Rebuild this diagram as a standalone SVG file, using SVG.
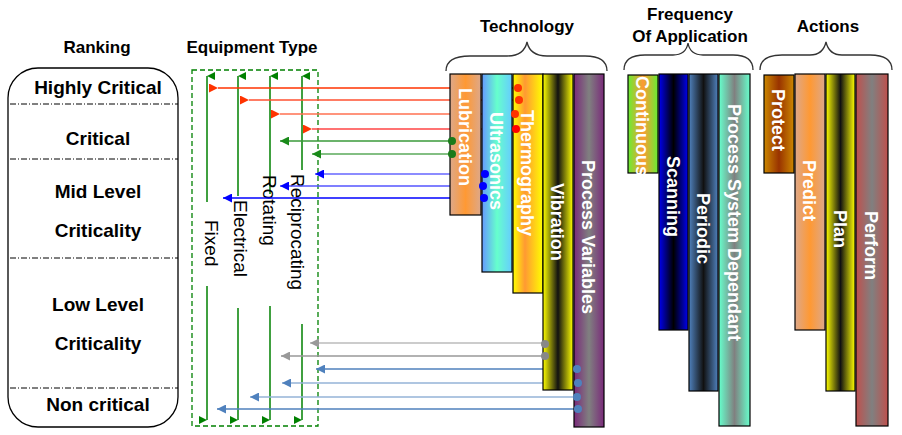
<svg xmlns="http://www.w3.org/2000/svg" width="902" height="435" viewBox="0 0 902 435">
<style>
.h{font-family:"Liberation Sans",Arial,sans-serif;font-weight:bold;font-size:17px;fill:#000;text-anchor:middle}
.r{font-family:"Liberation Sans",Arial,sans-serif;font-weight:bold;font-size:19px;fill:#000;text-anchor:middle}
.e{font-family:"Liberation Sans",Arial,sans-serif;font-size:19px;fill:#000}
.b{font-family:"Liberation Sans",Arial,sans-serif;font-weight:bold;font-size:18px;fill:#fff}
.bar{stroke:#000;stroke-width:1.2}
.div{stroke:#000;stroke-width:1;stroke-dasharray:6 2 1 2}
.v{stroke:#008000;stroke-width:1.5;fill:none}
.brace{fill:none;stroke:#333;stroke-width:1.3}
</style>
<defs>
<marker id="gu" viewBox="0 0 10 10" refX="5" refY="0" markerWidth="8" markerHeight="9" markerUnits="userSpaceOnUse" orient="auto"><path d="M0,10 L5,0 L10,10Z" fill="#008000"/></marker>
<marker id="ahR" viewBox="0 0 10 10" refX="0" refY="5" markerWidth="10" markerHeight="9" markerUnits="userSpaceOnUse" orient="auto-start-reverse"><path d="M0,5 L10,0 L10,10Z" fill="#ff3300"/></marker>
<marker id="ahG" viewBox="0 0 10 10" refX="0" refY="5" markerWidth="10" markerHeight="9" markerUnits="userSpaceOnUse"><path d="M0,5 L10,0 L10,10Z" fill="#1a8a1a"/></marker>
<marker id="ahB" viewBox="0 0 10 10" refX="0" refY="5" markerWidth="10" markerHeight="9" markerUnits="userSpaceOnUse"><path d="M0,5 L10,0 L10,10Z" fill="#0000ff"/></marker>
<marker id="ahY" viewBox="0 0 10 10" refX="0" refY="5" markerWidth="10" markerHeight="9" markerUnits="userSpaceOnUse"><path d="M0,5 L10,0 L10,10Z" fill="#999"/></marker>
<marker id="ahS" viewBox="0 0 10 10" refX="0" refY="5" markerWidth="10" markerHeight="9" markerUnits="userSpaceOnUse"><path d="M0,5 L10,0 L10,10Z" fill="#4f81bd"/></marker>
<linearGradient id="gLub"><stop offset="0" stop-color="#dda88a"/><stop offset=".5" stop-color="#ff9933"/><stop offset="1" stop-color="#dda88a"/></linearGradient>
<linearGradient id="gUlt"><stop offset="0" stop-color="#6699ff"/><stop offset=".5" stop-color="#66ffcc"/><stop offset="1" stop-color="#66ccff"/></linearGradient>
<linearGradient id="gThe"><stop offset="0" stop-color="#ffff00"/><stop offset=".4" stop-color="#ff9933"/><stop offset="1" stop-color="#ffff00"/></linearGradient>
<linearGradient id="gVib"><stop offset="0" stop-color="#ffff00"/><stop offset=".5" stop-color="#111"/><stop offset="1" stop-color="#ffff00"/></linearGradient>
<linearGradient id="gPro"><stop offset="0" stop-color="#7a2a7a"/><stop offset=".5" stop-color="#808080"/><stop offset="1" stop-color="#7a2a7a"/></linearGradient>
<linearGradient id="gCon"><stop offset="0" stop-color="#66ee33"/><stop offset=".5" stop-color="#ff9933"/><stop offset="1" stop-color="#66ee33"/></linearGradient>
<linearGradient id="gSca"><stop offset="0" stop-color="#0000ee"/><stop offset=".5" stop-color="#000"/><stop offset="1" stop-color="#0000ee"/></linearGradient>
<linearGradient id="gPer"><stop offset="0" stop-color="#4f81bd"/><stop offset=".5" stop-color="#111"/><stop offset="1" stop-color="#4f81bd"/></linearGradient>
<linearGradient id="gPsd"><stop offset="0" stop-color="#66ffcc"/><stop offset=".5" stop-color="#808080"/><stop offset="1" stop-color="#66ffcc"/></linearGradient>
<linearGradient id="gPrt"><stop offset="0" stop-color="#cc8800"/><stop offset=".5" stop-color="#993300"/><stop offset="1" stop-color="#cc8800"/></linearGradient>
<linearGradient id="gPrd"><stop offset="0" stop-color="#dda88a"/><stop offset=".5" stop-color="#ff9933"/><stop offset="1" stop-color="#dda88a"/></linearGradient>
<linearGradient id="gPla"><stop offset="0" stop-color="#ffff00"/><stop offset=".5" stop-color="#111"/><stop offset="1" stop-color="#ffff00"/></linearGradient>
<linearGradient id="gPfm"><stop offset="0" stop-color="#c0504d"/><stop offset=".5" stop-color="#808080"/><stop offset="1" stop-color="#c0504d"/></linearGradient>
</defs>
<rect width="902" height="435" fill="#fff"/>

<g id="headers">
<text class="h" x="97" y="53">Ranking</text>
<text class="h" x="252" y="53">Equipment Type</text>
<text class="h" x="527" y="32">Technology</text>
<text class="h" x="690" y="20">Frequency</text>
<text class="h" x="690" y="42">Of Application</text>
<text class="h" x="828" y="32">Actions</text>
</g>

<g id="braces">
<path class="brace" d="M446,71 Q446,56 470,56 L507,56 Q524,56 527,42 Q530,56 547,56 L585,56 Q607,56 607,71"/>
<path class="brace" d="M624,70 Q624,55 645,55 L673,55 Q686,55 688,43 Q690,55 703,55 L733,55 Q753,55 753,70"/>
<path class="brace" d="M760,70 Q760,55 782,55 L810,55 Q823,55 826,42 Q829,55 842,55 L870,55 Q892,55 892,70"/>
</g>

<g id="ranking">
<rect x="8" y="68" width="170" height="359" rx="30" fill="none" stroke="#000" stroke-width="1.3"/>
<line class="div" x1="10" y1="104" x2="178" y2="104"/>
<line class="div" x1="10" y1="159" x2="178" y2="159"/>
<line class="div" x1="10" y1="258" x2="178" y2="258"/>
<line class="div" x1="10" y1="388" x2="178" y2="388"/>
<text class="r" x="98" y="94">Highly  Critical</text>
<text class="r" x="98" y="145">Critical</text>
<text class="r" x="98" y="198">Mid Level</text>
<text class="r" x="98" y="237">Criticality</text>
<text class="r" x="98" y="311">Low Level</text>
<text class="r" x="98" y="350">Criticality</text>
<text class="r" x="98" y="411">Non critical</text>
</g>

<g id="equipment">
<rect x="192" y="70" width="126" height="356" fill="none" stroke="#008000" stroke-width="1.3" stroke-dasharray="5 3"/>
<path class="v" d="M207,202 V76" marker-end="url(#gu)"/>
<path class="v" d="M207,286 V420" marker-end="url(#gu)"/>
<path class="v" d="M238,196 V76" marker-end="url(#gu)"/>
<path class="v" d="M238,308 V420" marker-end="url(#gu)"/>
<path class="v" d="M270,194 V76" marker-end="url(#gu)"/>
<path class="v" d="M270,306 V420" marker-end="url(#gu)"/>
<path class="v" d="M302,170 V76" marker-end="url(#gu)"/>
<path class="v" d="M302,324 V420" marker-end="url(#gu)"/>
<text class="e" transform="translate(205,220) rotate(90)">Fixed</text>
<text class="e" transform="translate(234,200) rotate(90)">Electrical</text>
<text class="e" transform="translate(263,175) rotate(90)">Rotating</text>
<text class="e" transform="translate(291,174) rotate(90)">Reciprocating</text>
</g>

<g id="connectors" stroke-width="1.6" fill="none">
<path d="M518,88 H218" stroke="#ff3300" marker-end="url(#ahR)"/>
<path d="M519,100 H249" stroke="#ff5030" marker-end="url(#ahR)"/>
<path d="M515,114 H280" stroke="#ff7050" marker-end="url(#ahR)"/>
<path d="M516,129 H312" stroke="#ff4444" marker-end="url(#ahR)"/>
<path d="M452,141 H280" stroke="#3a9a3a" marker-end="url(#ahG)"/>
<path d="M452,154 H312" stroke="#5aaa5a" marker-end="url(#ahG)"/>
<path d="M484,174 H315" stroke="#6666ff" marker-end="url(#ahB)"/>
<path d="M483,186 H280" stroke="#5555ff" marker-end="url(#ahB)"/>
<path d="M484,198 H223" stroke="#0000ff" marker-end="url(#ahB)"/>
<path d="M545,343 H310" stroke="#bbb" marker-end="url(#ahY)"/>
<path d="M545,356 H281" stroke="#999" marker-end="url(#ahY)"/>
<path d="M577,369 H316" stroke="#4f81bd" marker-end="url(#ahS)"/>
<path d="M578,383 H282" stroke="#95b3d7" marker-end="url(#ahS)"/>
<path d="M577,397 H250" stroke="#95b3d7" marker-end="url(#ahS)"/>
<path d="M578,409 H217" stroke="#4f81bd" marker-end="url(#ahS)"/>
</g>

<g id="technology">
<rect class="bar" x="450" y="74" width="31" height="141" fill="url(#gLub)"/>
<rect class="bar" x="482" y="74" width="30" height="198" fill="url(#gUlt)"/>
<rect class="bar" x="513" y="74" width="30" height="219" fill="url(#gThe)"/>
<rect class="bar" x="543" y="74" width="30" height="316" fill="url(#gVib)"/>
<rect class="bar" x="574" y="74" width="30" height="353" fill="url(#gPro)"/>
<text class="b" transform="translate(459,88) rotate(90)">Lubrication</text>
<text class="b" transform="translate(490,112) rotate(90)">Ultrasonics</text>
<text class="b" transform="translate(521,110) rotate(90)">Thermography</text>
<text class="b" transform="translate(551,183) rotate(90)">Vibration</text>
<text class="b" transform="translate(582,160) rotate(90)">Process Variables</text>
</g>

<g id="dots">
<circle cx="518" cy="88" r="4" fill="#ff3300"/>
<circle cx="519" cy="100" r="4" fill="#ff3300"/>
<circle cx="515" cy="114" r="4" fill="#ff3300"/>
<circle cx="516" cy="129" r="4" fill="#ff0000"/>
<circle cx="452" cy="141" r="4" fill="#1a7a1a"/>
<circle cx="452" cy="154" r="4" fill="#1a7a1a"/>
<circle cx="485" cy="174" r="4" fill="#0000ff"/>
<circle cx="483" cy="186" r="4" fill="#0000ff"/>
<circle cx="484" cy="198" r="4" fill="#0000ff"/>
<circle cx="545" cy="344" r="4" fill="#888"/>
<circle cx="545" cy="356" r="4" fill="#888"/>
<circle cx="577" cy="369" r="4" fill="#4f81bd"/>
<circle cx="578" cy="383" r="4" fill="#4f81bd"/>
<circle cx="577" cy="397" r="4" fill="#4f81bd"/>
<circle cx="578" cy="409" r="4" fill="#4f81bd"/>
</g>

<g id="frequency">
<rect class="bar" x="628" y="75" width="30" height="98" fill="url(#gCon)"/>
<rect class="bar" x="659" y="74" width="29" height="256" fill="url(#gSca)"/>
<rect class="bar" x="689" y="74" width="29" height="317" fill="url(#gPer)"/>
<rect class="bar" x="719" y="74" width="31" height="352" fill="url(#gPsd)"/>
<text class="b" transform="translate(636,76) rotate(90)">Continuous</text>
<text class="b" transform="translate(667,156) rotate(90)">Scanning</text>
<text class="b" transform="translate(697,193) rotate(90)">Periodic</text>
<text class="b" transform="translate(728,104) rotate(90)">Process System Dependant</text>
</g>

<g id="actions">
<rect class="bar" x="764" y="75" width="30" height="98" fill="url(#gPrt)"/>
<rect class="bar" x="795" y="74" width="30" height="256" fill="url(#gPrd)"/>
<rect class="bar" x="826" y="74" width="29" height="317" fill="url(#gPla)"/>
<rect class="bar" x="856" y="74" width="32" height="352" fill="url(#gPfm)"/>
<text class="b" transform="translate(772,89) rotate(90)">Protect</text>
<text class="b" transform="translate(803,160) rotate(90)">Predict</text>
<text class="b" transform="translate(834,210) rotate(90)">Plan</text>
<text class="b" transform="translate(865,211) rotate(90)">Perform</text>
</g>
</svg>
